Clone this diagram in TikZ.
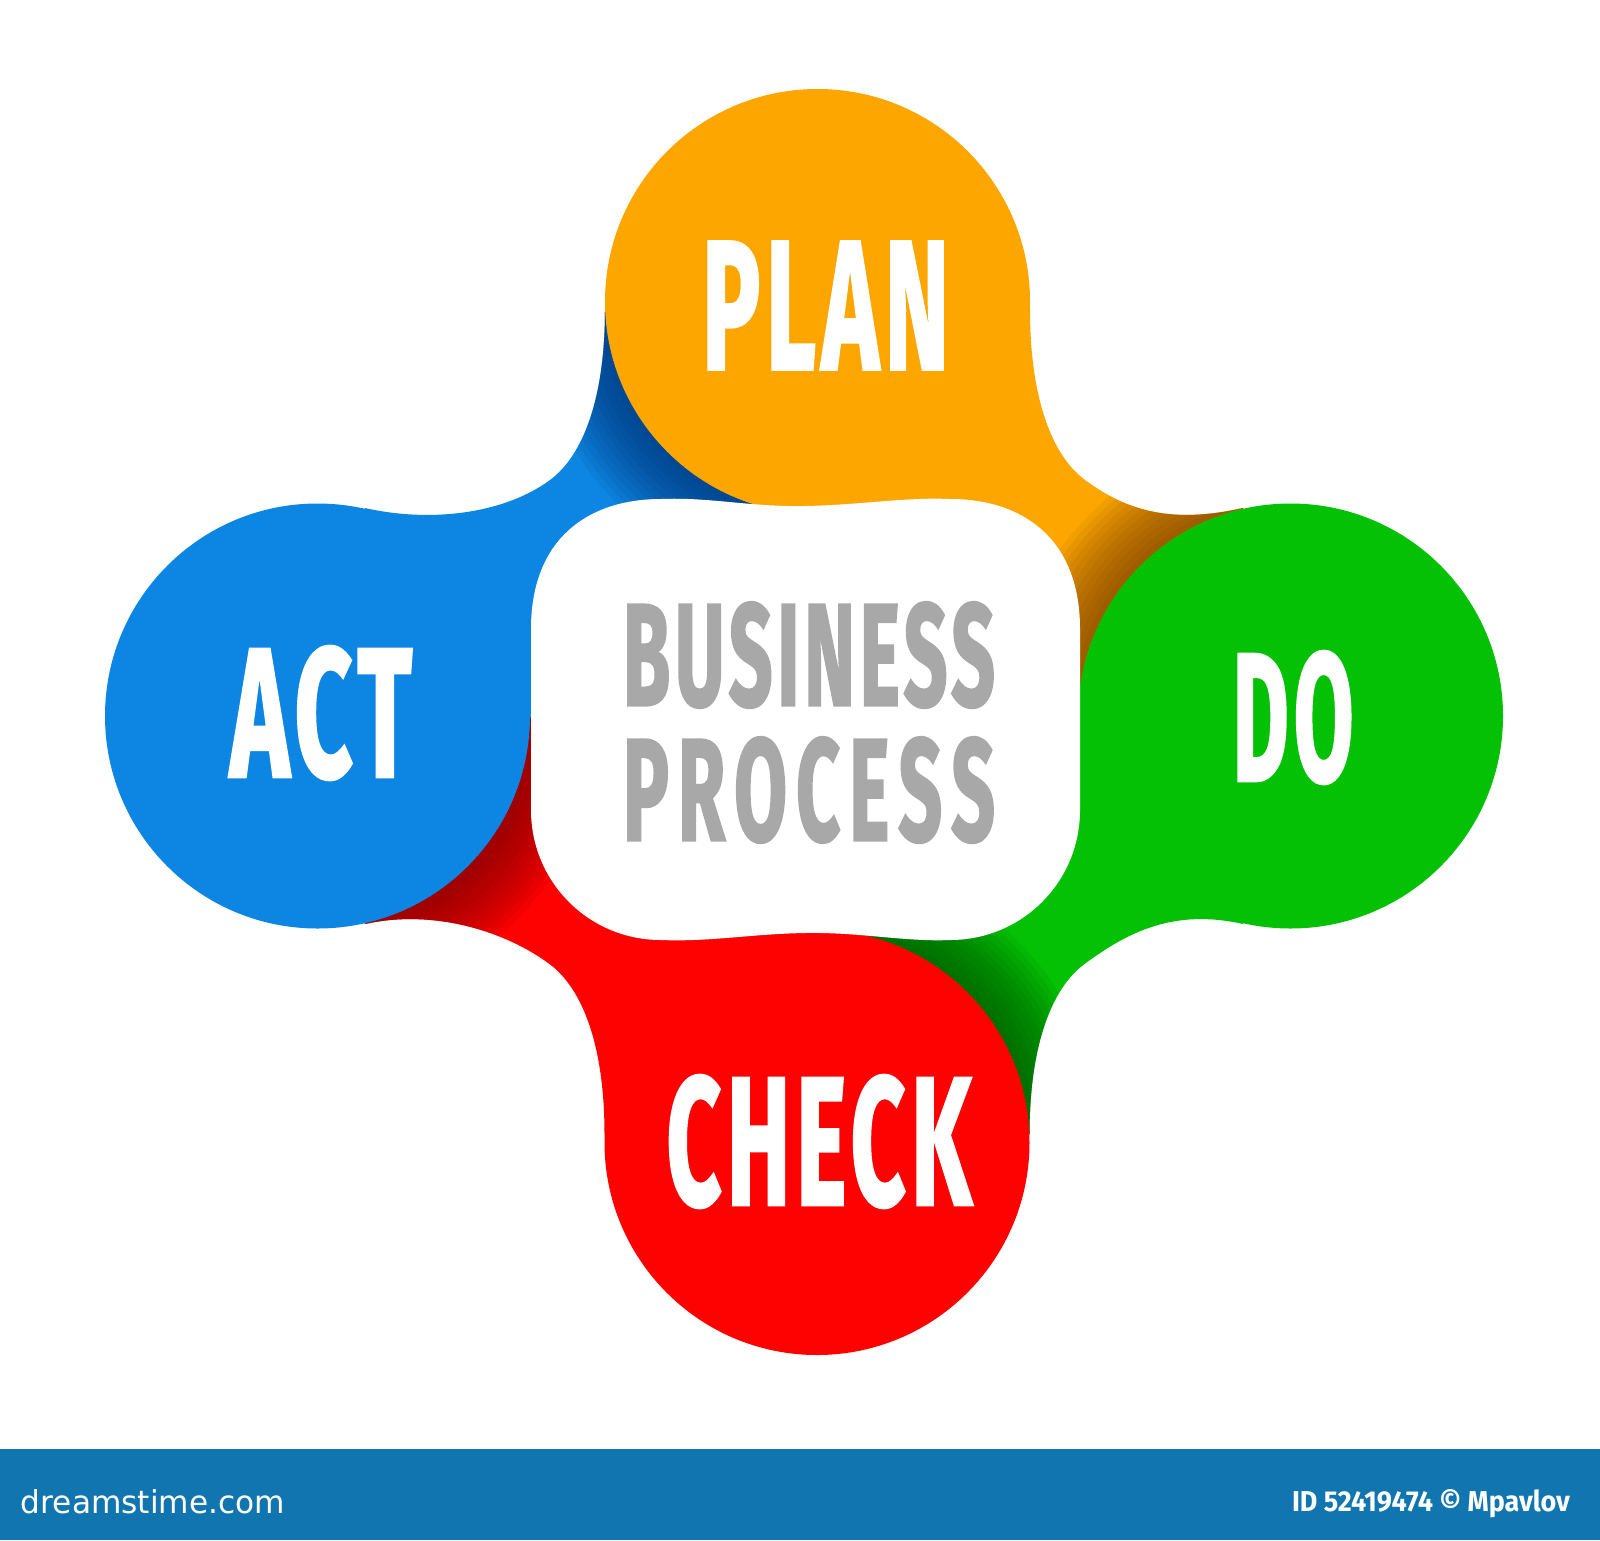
\documentclass[tikz,border=0pt]{standalone}
\usepackage{fontspec}
\usepackage{graphicx}
\newfontfamily\labelfont{Fira Sans}[BoldFeatures={FakeBold=2}, LetterSpace=6]
\newfontfamily\idfont{Fira Sans}
\newfontfamily\logofont{DejaVu Sans}
\newlength\bwlen
\definecolor{cPlan}{RGB}{254,166,0}
\definecolor{cDo}{RGB}{5,193,5}
\definecolor{cCheck}{RGB}{254,2,2}
\definecolor{cAct}{RGB}{12,134,226}
\definecolor{dPlan}{RGB}{110,55,0}
\definecolor{dDo}{RGB}{0,70,0}
\definecolor{dCheck}{RGB}{110,0,0}
\definecolor{dAct}{RGB}{0,40,105}
\definecolor{cText}{RGB}{168,168,168}
\definecolor{cBar}{RGB}{17,118,175}
\tikzset{
  blob/.style={circle, minimum size=425pt, inner sep=0pt, outer sep=0pt, draw=none},
  lbl/.style={inner sep=0pt, outer sep=0pt, text=white, font=\labelfont\bfseries\fontsize{100}{100}\selectfont},
  ctext/.style={inner sep=0pt, outer sep=0pt, text=cText, font=\labelfont\bfseries\fontsize{100}{100}\selectfont},
  bartext/.style={inner sep=0pt, outer sep=0pt, text=white},
  shadowring/.style={fill=#1, opacity=0.08}
}
\def\tailAct{(317.5,716) -- (365,508) .. controls (433.3,523.4) and (505.8,512.7) .. (550,480) .. controls (582.2,456.2) and (605,400) .. (605,310) -- (817.5,301.5) -- (805,720) -- cycle}
\def\tailPlan{(817.5,301.5) -- (1030,310) .. controls (1030,400) and (1052.8,456.2) .. (1085,480) .. controls (1129.2,512.7) and (1174.7,523.4) .. (1243,508) -- (1290.5,716) -- (805,720) -- cycle}
\def\tailDo{(1290.5,716) -- (1243,924) .. controls (1174.7,908.6) and (1128.7,931.3) .. (1084.5,964) .. controls (1052.3,987.8) and (1029.5,1044) .. (1029.5,1134) -- (817,1142.5) -- (805,720) -- cycle}
\def\tailCheck{(817,1142.5) -- (604.5,1134) .. controls (604.5,1044) and (581.7,987.8) .. (549.5,964) .. controls (505.3,931.3) and (433.3,908.6) .. (365,924) -- (317.5,716) -- (805,720) -- cycle}
\begin{document}
\begin{tikzpicture}[x=1pt,y=-1pt]
\useasboundingbox (0,0) rectangle (1600,1540);
\fill[white] (0,0) rectangle (1600,1540);
% tails, each with the shadow of the next circle
\fill[cAct] \tailAct;
\begin{scope}\clip \tailAct;
  \foreach \k in {1,...,12} {\fill[shadowring=dAct] (817.5,301.5) circle ({212.5+6*\k});}
\end{scope}
\fill[cPlan] \tailPlan;
\begin{scope}\clip \tailPlan;
  \foreach \k in {1,...,12} {\fill[shadowring=dPlan] (1290.5,716) circle ({212.5+6*\k});}
\end{scope}
\fill[cDo] \tailDo;
\begin{scope}\clip \tailDo;
  \foreach \k in {1,...,12} {\fill[shadowring=dDo] (817,1142.5) circle ({212.5+6*\k});}
\end{scope}
\fill[cCheck] \tailCheck;
\begin{scope}\clip \tailCheck;
  \foreach \k in {1,...,12} {\fill[shadowring=dCheck] (317.5,716) circle ({212.5+6*\k});}
\end{scope}
% circles
\node[blob, fill=cPlan] (plan) at (817.5,301.5) {};
\node[blob, fill=cDo] (do) at (1290.5,716) {};
\node[blob, fill=cCheck] (check) at (817,1142.5) {};
\node[blob, fill=cAct] (act) at (317.5,716) {};
% centre
\fill[white] (661,499) .. controls (710,497) and (750,507) .. (805,506) .. controls (860,505) and (905,497) .. (950,499)
  .. controls (1022,499) and (1080,538) .. (1080,629) -- (1080,810)
  .. controls (1080,882) and (1022,940) .. (950,940)
  .. controls (905,942) and (860,932) .. (805,933) .. controls (750,934) and (710,942) .. (661,940)
  .. controls (589,940) and (531,882) .. (531,810) -- (531,629)
  .. controls (531,538) and (589,499) .. (661,499) -- cycle;
% labels
\node[lbl] (planT) at (825.5,305.5) {\resizebox{247pt}{127pt}{PLAN}};
\node[lbl] (actT) at (321,713) {\resizebox{182pt}{130pt}{ACT}};
\node[lbl] (doT) at (1293,717.5) {\resizebox{121pt}{129pt}{DO}};
\node[lbl] (checkT) at (819,1141.5) {\resizebox{305pt}{129pt}{CHECK}};
\node[ctext] (busT) at (809,655) {\resizebox{372pt}{103pt}{BUSINESS}};
\node[ctext] (procT) at (809,790) {\settowidth{\bwlen}{BUSINESS}\resizebox{372pt}{103pt}{\makebox[\bwlen][l]{P\hfill R\hfill O\hfill C\hfill E\hfill S\hfill S}}};
% bottom bar
\fill[cBar] (0,1449) rectangle (1600,1540);
\node[bartext, font=\logofont\fontsize{30}{30}\selectfont] (logo) at (153,1502) {\resizebox{264pt}{24pt}{dreamstime.com}};
\node[bartext, anchor=base west, font=\idfont\bfseries\fontsize{24}{24}\selectfont] (idT) at (1292,1511) {\resizebox{278pt}{22pt}{ID 52419474 © Mpavlov}};
\end{tikzpicture}
\end{document}
